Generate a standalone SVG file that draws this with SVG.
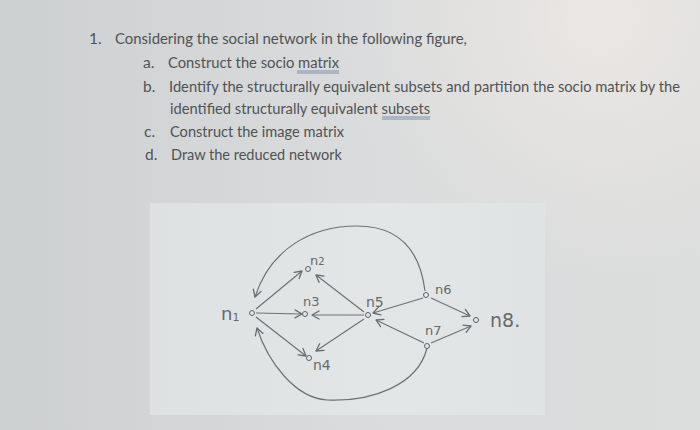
<svg xmlns="http://www.w3.org/2000/svg" width="700" height="430" viewBox="0 0 700 430">
  <defs>
    <linearGradient id="bg" x1="0" y1="0" x2="1" y2="0">
      <stop offset="0" stop-color="#cdd0d1"/>
      <stop offset="0.5" stop-color="#d9dbdc"/>
      <stop offset="1" stop-color="#dcdddd"/>
    </linearGradient>
    <radialGradient id="glare" cx="600" cy="20" r="260" gradientUnits="userSpaceOnUse">
      <stop offset="0" stop-color="#ece8e4" stop-opacity="0.9"/>
      <stop offset="1" stop-color="#ece8e4" stop-opacity="0"/>
    </radialGradient>
    <linearGradient id="fig" x1="0" y1="0" x2="1" y2="0">
      <stop offset="0" stop-color="#dee1e2"/>
      <stop offset="0.6" stop-color="#e3e6e7"/>
      <stop offset="1" stop-color="#e0e3e4"/>
    </linearGradient>
    <marker id="arr" markerWidth="14" markerHeight="14" refX="0" refY="0" viewBox="-10 -7 14 14" orient="auto" markerUnits="userSpaceOnUse">
      <path d="M-7,-4 L0,0 L-7,4" fill="none" stroke="#6a6d70" stroke-width="1.3" stroke-linecap="round" stroke-linejoin="round"/>
    </marker>
    <style>
      .t { font-family: Lato, "Liberation Sans", sans-serif; font-size: 15.5px; fill: #505356; }
      .ul { stroke: #7f8fae; stroke-width: 1; }
      .edge { fill: none; stroke: #6f7275; stroke-width: 1.2; marker-end: url(#arr); }
      .node { fill: #e3e6e7; stroke: #5f6265; stroke-width: 1; }
      .lbl { font-family: "DejaVu Sans", sans-serif; fill: #66696c; }
    </style>
  </defs>

  <rect x="0" y="0" width="700" height="430" fill="url(#bg)"/>
  <rect x="0" y="0" width="700" height="430" fill="url(#glare)"/>
  <rect x="150" y="203" width="395" height="212" fill="url(#fig)"/>

  <g id="text">
    <text class="t" x="89" y="44">1.</text>
    <text class="t" x="115" y="44" textLength="352" lengthAdjust="spacingAndGlyphs">Considering the social network in the following figure,</text>
    <text class="t" x="143" y="68">a.</text>
    <text class="t" x="168" y="68" textLength="171" lengthAdjust="spacingAndGlyphs">Construct the socio matrix</text>
    <line class="ul" x1="297" y1="71" x2="339" y2="71"/>
    <line class="ul" x1="297" y1="73" x2="339" y2="73"/>
    <text class="t" x="143" y="92">b.</text>
    <text class="t" x="169" y="92" style="font-size:14.4px" textLength="511" lengthAdjust="spacingAndGlyphs">Identify the structurally equivalent subsets and partition the socio matrix by the</text>
    <text class="t" x="170" y="114" textLength="260" lengthAdjust="spacingAndGlyphs">identified structurally equivalent subsets</text>
    <line class="ul" x1="382" y1="117" x2="430" y2="117"/>
    <line class="ul" x1="382" y1="119" x2="430" y2="119"/>
    <text class="t" x="144" y="137">c.</text>
    <text class="t" x="170" y="137" textLength="174" lengthAdjust="spacingAndGlyphs">Construct the image matrix</text>
    <text class="t" x="145" y="160">d.</text>
    <text class="t" x="171" y="160" textLength="171" lengthAdjust="spacingAndGlyphs">Draw the reduced network</text>
  </g>

  <g id="connectors">
    <line class="edge" x1="256" y1="309" x2="302" y2="271"/>
    <line class="edge" x1="256" y1="313" x2="302" y2="314"/>
    <line class="edge" x1="256" y1="317" x2="306" y2="356"/>
    <line class="edge" x1="364" y1="312" x2="316" y2="275"/>
    <line class="edge" x1="364" y1="315" x2="312" y2="315"/>
    <line class="edge" x1="364" y1="319" x2="316" y2="351"/>
    <line class="edge" x1="423" y1="298" x2="373" y2="313"/>
    <line class="edge" x1="424" y1="343" x2="376" y2="320"/>
    <line class="edge" x1="431" y1="298" x2="470" y2="316"/>
    <line class="edge" x1="431" y1="343" x2="471" y2="326"/>
    <path class="edge" d="M425,291 C419,243 392,226 357,226 C310,226 270,250 255,297"/>
    <path class="edge" d="M427,348 C418,385 372,402 327,400 C295,398 268,362 257,328"/>
  </g>

  <g id="n1"><circle class="node" cx="252" cy="313" r="2.5"/><text class="lbl" x="221" y="320" font-size="18">n<tspan font-size="11" dy="1">1</tspan></text></g>
  <g id="n2"><circle class="node" cx="308" cy="269" r="2.5"/><text class="lbl" x="310" y="265" font-size="13">n<tspan font-size="10">2</tspan></text></g>
  <g id="n3"><circle class="node" cx="305" cy="314" r="2.5"/><text class="lbl" x="303" y="306" font-size="13">n3</text></g>
  <g id="n4"><circle class="node" cx="309" cy="358" r="2.5"/><text class="lbl" x="313" y="370" font-size="14">n4</text></g>
  <g id="n5"><circle class="node" cx="368" cy="315" r="2.5"/><text class="lbl" x="366" y="307" font-size="14">n5</text></g>
  <g id="n6"><circle class="node" cx="426" cy="295" r="2.5"/><text class="lbl" x="435" y="294" font-size="13">n6</text></g>
  <g id="n7"><circle class="node" cx="427" cy="346" r="2.5"/><text class="lbl" x="425" y="335" font-size="13">n7</text></g>
  <g id="n8"><circle class="node" cx="476" cy="320" r="2.5"/><text class="lbl" x="490" y="327" font-size="19">n8.</text></g>
</svg>
